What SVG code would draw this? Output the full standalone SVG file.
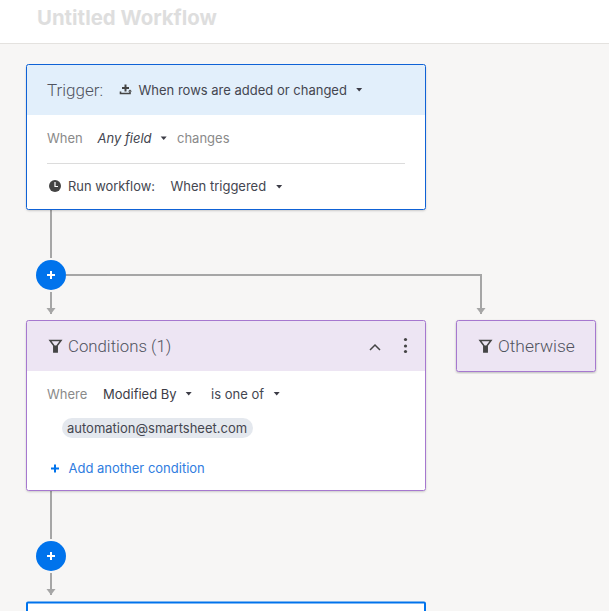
<svg xmlns="http://www.w3.org/2000/svg" width="609" height="611" viewBox="0 0 609 611">
<defs>
<marker id="arrow" markerUnits="userSpaceOnUse" markerWidth="10" markerHeight="10" refX="6" refY="5" orient="auto" viewBox="0 0 10 10"><path d="M0,0.500 L6,5 L0,9.500 Z" fill="#a6a6a6"/></marker>
<filter id="sh" x="-2%" y="-2%" width="104%" height="106%"><feDropShadow dx="0" dy="1" stdDeviation="0.8" flood-color="#000" flood-opacity="0.25"/></filter>
</defs>
<style>
text{font-family:"Inter","Liberation Sans",sans-serif;font-size:13px;fill:#444650}
.h{font-family:"Roboto","Liberation Sans",sans-serif;font-size:17px;fill:#50535e;font-weight:300}
.g{fill:#8a8a8a}
.c{fill:none;stroke:#a6a6a6;stroke-width:2}
.tri{fill:#3c3c46}
.pb{fill:#0073ec}
.pl{stroke:#fff;stroke-width:2;fill:none}
.ic{fill:#444}
.fl{fill:#fff;stroke:#444;stroke-width:1.500}
</style>
<rect width="609" height="611" fill="#f7f6f5"/>
<g id="title-bar">
<rect width="609" height="43" fill="#fff"/>
<rect y="43" width="609" height="1" fill="#e4e2df"/>
<text x="37" y="25" style="font-family:Inter,'Liberation Sans',sans-serif;font-size:20.400px;font-weight:700;fill:#dedede">Untitled Workflow</text>
</g>
<g id="connectors">
<path class="c" d="M51,210 V258"/>
<path class="c" d="M51,292 V314" marker-end="url(#arrow)"/>
<path class="c" d="M66,275 H481 V314" marker-end="url(#arrow)"/>
<path class="c" d="M51,491 V539"/>
<path class="c" d="M51,573 V595" marker-end="url(#arrow)"/>
</g>
<g id="trigger">
<rect x="26.500" y="65" width="399" height="144.500" rx="2" fill="#fff" filter="url(#sh)"/>
<path d="M27,65 H425 V115 H27 Z" fill="#e2effb"/>
<rect x="26.500" y="64.500" width="399" height="145" rx="2" fill="none" stroke="#0f62d6" stroke-width="1"/>
<text class="h" x="47" y="96">Trigger:</text>
<path class="ic" d="M124.500,84.500 h2 v2.500 h2.500 v2 h-2.500 v2.500 h-2 v-2.500 h-2.500 v-2 h2.500 Z"/>
<path d="M120.500,91.500 v2 h9.500 v-2" fill="none" stroke="#444" stroke-width="1.600"/>
<path class="ic" d="M128,91.500 h4 l-2,-2 Z"/>
<text x="138.500" y="95">When rows are added or changed</text>
<path class="tri" d="M356.200,88 h6 l-3,3.500 Z"/>
<text class="g" x="47" y="143">When</text>
<text x="97.500" y="143" font-style="italic">Any field</text>
<path class="tri" d="M160.700,136.500 h6 l-3,3.500 Z"/>
<text class="g" x="177" y="143">changes</text>
<rect x="47" y="163" width="358" height="1" fill="#dcdcdc"/>
<circle cx="55" cy="186" r="6" fill="#444"/>
<path d="M55,182 V186.500 H58" fill="none" stroke="#fff" stroke-width="1.200"/>
<text x="68" y="191" style="font-size:12.900px">Run workflow:</text>
<text x="170.500" y="191">When triggered</text>
<path class="tri" d="M276.200,185 h6 l-3,3.500 Z"/>
</g>
<g id="add-1">
<circle cx="51" cy="275" r="15" class="pb"/>
<path class="pl" d="M47,275 H55 M51,271 V279"/>
</g>
<g id="conditions">
<rect x="26.500" y="321" width="399" height="169.500" rx="2" fill="#fff" filter="url(#sh)"/>
<path d="M27,321 H425 V371 H27 Z" fill="#ede5f3"/>
<rect x="26.500" y="320.500" width="399" height="170" rx="2" fill="none" stroke="#a678cf" stroke-width="1"/>
<path d="M50,340.500 h11 l-3.800,5 v6.500 h-3.400 v-6.500 Z" class="fl" style="fill:none"/>
<path d="M54,345.500 h3 v6.500 h-3 Z" fill="#444"/>
<text class="h" x="68" y="352" style="font-size:16.800px">Conditions (1)</text>
<path d="M370,350 L375,345 L380,350" fill="none" stroke="#444" stroke-width="1.500"/>
<circle cx="405.500" cy="339.500" r="1.600" class="ic"/><circle cx="405.500" cy="346" r="1.600" class="ic"/><circle cx="405.500" cy="351.500" r="1.600" class="ic"/>
<text class="g" x="47" y="399">Where</text>
<text x="103" y="399" style="fill:#3c3c46">Modified By</text>
<path class="tri" d="M185.700,392 h6 l-3,3.500 Z"/>
<text x="211" y="399">is one of</text>
<path class="tri" d="M273.700,392 h6 l-3,3.500 Z"/>
<rect x="62" y="418" width="191" height="20" rx="10" fill="#e4e8ee"/>
<text x="67" y="433">automation@smartsheet.com</text>
<path d="M51,468.500 H59 M55,464.500 V472.500" stroke="#0073ec" stroke-width="2" fill="none"/>
<text x="68.500" y="473" style="fill:#2f7de0">Add another condition</text>
</g>
<g id="otherwise">
<rect x="456.500" y="320.500" width="139" height="51" rx="2" fill="#ede5f3" stroke="#a678cf" stroke-width="1" filter="url(#sh)"/>
<path d="M480,340.500 h11 l-3.800,5 v6.500 h-3.400 v-6.500 Z" class="fl" style="fill:none"/>
<path d="M484,345.500 h3 v6.500 h-3 Z" fill="#444"/>
<text class="h" x="498" y="352" style="font-size:17.400px">Otherwise</text>
</g>
<g id="add-2">
<circle cx="51" cy="556" r="15" class="pb"/>
<path class="pl" d="M47,556 H55 M51,552 V560"/>
</g>
<g id="next-card">
<path d="M27,611 V603.500 Q27,602.500 28,602.500 H424 Q425,602.500 425,603.500 V611" fill="#fff" stroke="#0073ec" stroke-width="2"/>
</g>
</svg>
